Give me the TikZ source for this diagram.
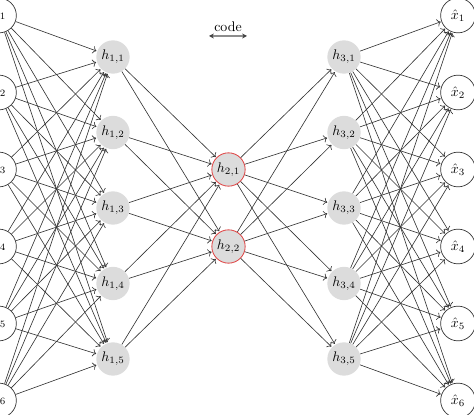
\documentclass[tikz,border=0pt]{standalone}
\usetikzlibrary{arrows.meta}
\definecolor{hfill}{HTML}{DCDCDC}
\definecolor{hred}{HTML}{E04848}
\begin{document}
\begin{tikzpicture}[x=0.72pt,y=-0.72pt,
  io/.style={circle,draw=black!80,fill=white,line width=0.5pt,minimum size=25pt,inner sep=0pt},
  hid/.style={circle,fill=hfill,minimum size=24pt,inner sep=0pt},
  mid/.style={hid,draw=hred,line width=0.6pt},
  conn/.style={->,draw=black!80,line width=0.45pt,shorten >=0.5pt},
  codearrow/.style={{Stealth[length=3.5pt,width=3.5pt,color=black!75]}-{Stealth[length=3.5pt,width=3.5pt,color=black!75]},draw=black!45,line width=0.9pt}]
\useasboundingbox (0,0) rectangle (474,415);
% input layer
\foreach \i/\y in {1/15.5,2/92.5,3/169.5,4/246.5,5/323.5,6/400.5}
  \node[io] (x\i) at (-1,\y) {$x_{\i}$};
% hidden layer 1
\foreach \i/\y in {1/57,2/132.5,3/208,4/283.5,5/359}
  \node[hid] (a\i) at (113,\y) {$h_{1,\i}$};
% hidden layer 2 (code)
\node[mid] (b1) at (228.5,169.5) {$h_{2,1}$};
\node[mid] (b2) at (228.5,246.5) {$h_{2,2}$};
% hidden layer 3
\foreach \i/\y in {1/57,2/132.5,3/208,4/283.5,5/359}
  \node[hid] (c\i) at (344,\y) {$h_{3,\i}$};
% output layer
\foreach \i/\y in {1/15.5,2/92.5,3/169.5,4/246.5,5/323.5,6/400.5}
  \node[io] (y\i) at (458,\y) {$\hat{x}_{\i}$};
% connections
\foreach \i in {1,...,6}
  \foreach \j in {1,...,5}
    \draw[conn] (x\i) -- (a\j);
\foreach \i in {1,...,5}
  \foreach \j in {1,2}
    \draw[conn] (a\i) -- (b\j);
\foreach \i in {1,2}
  \foreach \j in {1,...,5}
    \draw[conn] (b\i) -- (c\j);
\foreach \i in {1,...,5}
  \foreach \j in {1,...,6}
    \draw[conn] (c\i) -- (y\j);
% code label
\coordinate (ca) at (209,36);
\coordinate (cb) at (247,36);
\draw[codearrow] (ca) -- (cb);
\node (code) at (228,27) {code};
\end{tikzpicture}
\end{document}
